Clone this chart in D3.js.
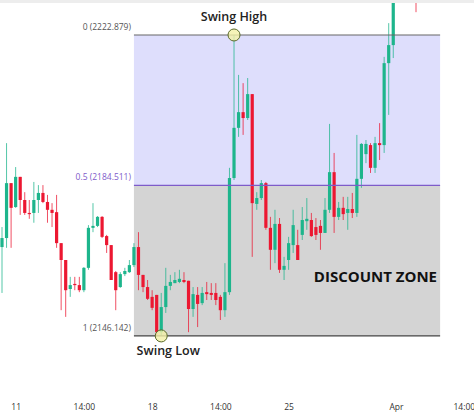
<!DOCTYPE html>
<html><head><meta charset="utf-8">
<script src="https://cdn.jsdelivr.net/npm/d3@7"></script>
<style>body{margin:0;background:#fff}svg{display:block;font-family:"Open Sans",sans-serif}</style>
</head><body>
<svg id="c" width="474" height="413"></svg>
<script>
// [open, high, low, close]
const candles = [
[2168.8,2173.9,2157.1,2171.1],[2171.1,2195.3,2168.6,2185.1],[2185.1,2185.1,2168.6,2178.8],[2179.0,2189.2,2178.8,2186.7],
[2186.7,2186.7,2177.0,2180.8],[2180.8,2182.8,2177.0,2177.5],[2177.5,2180.8,2176.0,2177.2],[2177.5,2185.4,2175.0,2180.8],
[2180.8,2184.6,2177.5,2182.6],[2182.6,2184.6,2180.0,2180.3],[2180.3,2182.1,2175.0,2178.3],[2178.3,2180.0,2173.9,2177.5],
[2177.7,2182.1,2168.6,2169.8],[2169.8,2169.8,2152.7,2165.5],[2165.5,2165.5,2151.0,2157.8],[2158.1,2161.2,2156.1,2159.1],
[2159.4,2161.2,2157.8,2159.1],[2159.1,2161.2,2157.3,2157.8],[2157.8,2163.7,2157.3,2163.5],[2163.5,2174.4,2163.0,2173.7],
[2173.7,2180.0,2172.6,2174.2],[2174.2,2176.7,2173.9,2176.5],[2176.5,2176.7,2171.1,2171.4],[2171.6,2171.9,2167.3,2169.3],
[2169.3,2169.3,2160.4,2160.4],[2162.4,2162.7,2152.7,2157.8],[2158.6,2162.4,2158.4,2161.9],[2161.9,2163.5,2161.4,2162.7],
[2162.4,2165.5,2162.2,2164.2],[2164.2,2169.8,2163.7,2168.8],[2168.8,2172.6,2157.8,2161.7],[2161.7,2161.7,2157.3,2158.6],
[2158.6,2160.4,2155.3,2155.6],[2156.1,2157.8,2152.7,2153.3],[2156.6,2156.6,2146.4,2147.1],[2147.1,2157.1,2146.142,2153.5],
[2153.5,2163.5,2152.0,2158.9],[2158.9,2161.7,2157.8,2159.9],[2159.6,2162.4,2159.6,2160.4],[2159.9,2163.0,2159.6,2160.7],
[2160.4,2162.4,2159.6,2159.9],[2160.2,2160.2,2147.1,2153.0],[2153.0,2158.6,2151.0,2156.8],[2156.6,2158.6,2148.4,2154.3],
[2154.5,2158.6,2154.0,2157.1],[2157.3,2159.9,2155.3,2156.8],[2157.1,2159.6,2155.3,2156.6],[2157.1,2159.6,2154.0,2155.3],
[2156.1,2156.6,2150.2,2152.7],[2152.7,2164.7,2151.0,2157.3],[2157.3,2189.0,2156.6,2186.4],[2186.4,2222.879,2185.9,2199.2],
[2199.2,2212.7,2196.9,2203.2],[2203.2,2210.6,2197.4,2201.7],[2201.7,2211.9,2201.2,2207.8],[2207.8,2207.8,2166.3,2180.0],
[2179.8,2182.8,2178.3,2181.3],[2181.3,2185.9,2180.8,2185.1],[2185.1,2185.4,2173.2,2173.7],[2173.7,2176.5,2163.0,2168.1],
[2168.1,2178.3,2164.7,2174.7],[2174.7,2176.2,2162.2,2163.0],[2163.0,2166.3,2160.4,2164.0],[2165.5,2171.4,2163.0,2169.8],
[2169.3,2178.3,2167.3,2174.4],[2169.3,2173.2,2165.5,2165.5],[2171.9,2179.0,2170.6,2175.7],[2175.4,2181.3,2173.2,2176.0],
[2175.7,2177.5,2171.4,2171.6],[2173.9,2176.2,2170.6,2171.9],[2174.2,2175.7,2168.1,2172.4],[2172.4,2181.3,2172.4,2178.3],
[2178.3,2200.2,2177.5,2187.9],[2187.9,2192.8,2172.4,2176.5],[2176.5,2180.3,2175.7,2178.8],[2178.8,2181.6,2175.7,2177.2],
[2177.5,2181.6,2173.2,2178.5],[2178.5,2182.6,2176.2,2177.5],[2177.5,2197.4,2176.5,2186.2],[2186.2,2195.3,2183.9,2195.1],
[2192.5,2196.1,2190.2,2195.1],[2194.8,2195.3,2187.7,2189.0],[2189.0,2196.9,2187.7,2195.3],[2195.3,2200.4,2191.0,2194.8],
[2194.8,2217.3,2192.8,2215.7],[2215.7,2225.9,2202.5,2220.3],[2220.3,2234.4,2217.0,2233.1],[2233.0,2238.0,2232.5,2236.0],
[2236.0,2240.0,2234.0,2239.0],[2239.0,2242.0,2235.0,2237.0],[2237.0,2241.0,2234.5,2240.0],[2240.0,2242.0,2228.7,2232.5]
];
const fibLevels = [{r:"0",p:2222.879},{r:"0.5",p:2184.511},{r:"1",p:2146.142}];
const tickPos = [3,18,33,48,63,86.6,101.5];
const tickLabels = ["11","14:00","18","14:00","25","Apr","14:00"];
const zoneIdx = [29.0, 96.3];
const swingHighIdx = 51, swingLowIdx = 35;

(function(){
const svg = d3.select("#c");
const x = d3.scaleLinear().domain([0,91]).range([2,416]);
const y = d3.scaleLinear().domain([2231.8, 2231.8-0.255*413]).range([0,413]);
const G = "#1db58c", R = "#ec1731";

svg.append("rect").attr("x",0).attr("y",0).attr("width",474).attr("height",3).attr("fill","#ededed");
svg.append("defs").append("clipPath").attr("id","pc").append("rect").attr("x",0).attr("y",3).attr("width",474).attr("height",392);

const pTop = fibLevels[0].p, pMid = fibLevels[1].p, pBot = fibLevels[2].p;
const zx0 = x(zoneIdx[0]), zw = x(zoneIdx[1])-x(zoneIdx[0]);
svg.append("rect").attr("x",zx0).attr("y",y(pTop)).attr("width",zw).attr("height",y(pMid)-y(pTop)).attr("fill","#dedefc");
svg.append("rect").attr("x",zx0).attr("y",y(pMid)).attr("width",zw).attr("height",y(pBot)-y(pMid)).attr("fill","#d4d4d4");

const g = svg.append("g").attr("clip-path","url(#pc)");
candles.forEach((c,i)=>{
  const [o,h,l,cl] = c, col = cl>=o?G:R;
  g.append("line").attr("x1",x(i)).attr("x2",x(i)).attr("y1",y(h)).attr("y2",y(l)).attr("stroke",col).attr("stroke-width",1).attr("opacity",0.75);
  const yt = y(Math.max(o,cl)), yb = y(Math.min(o,cl));
  g.append("rect").attr("x",x(i)-1.6).attr("width",3.2).attr("y",yt).attr("height",Math.max(1.2,yb-yt)).attr("fill",col);
});

const lineCols = ["#666","#7e5bc9","#444"], txtCols = ["#555","#7e5bc9","#555"];
fibLevels.forEach((f,k)=>{
  svg.append("line").attr("x1",zx0).attr("x2",zx0+zw).attr("y1",y(f.p)).attr("y2",y(f.p)).attr("stroke",lineCols[k]).attr("stroke-width",1.2);
  svg.append("text").attr("x",131).attr("y",y(f.p)-5).attr("text-anchor","end").attr("font-size",8.5).attr("fill",txtCols[k]).text(`${f.r} (${f.p.toFixed(3)})`);
});

[[swingHighIdx, pTop],[swingLowIdx, pBot]].forEach(([i,p])=>{
  svg.append("circle").attr("cx",x(i)).attr("cy",y(p)).attr("r",6).attr("fill","#f3f0a6").attr("fill-opacity",0.8).attr("stroke","#5a6b2a").attr("stroke-width",1);
});
svg.append("text").attr("x",x(swingHighIdx)).attr("y",21).attr("text-anchor","middle").attr("font-size",12.5).attr("font-weight",600).attr("fill","#222").text("Swing High");
svg.append("text").attr("x",x(swingLowIdx)+7).attr("y",355).attr("text-anchor","middle").attr("font-size",12.5).attr("font-weight",600).attr("fill","#222").text("Swing Low");
svg.append("text").attr("x",437).attr("y",282).attr("text-anchor","end").attr("font-size",15).attr("font-weight",700).attr("fill","#111").text("DISCOUNT ZONE");

const ax = svg.append("g").attr("transform","translate(0,400)")
  .call(d3.axisBottom(x).tickValues(tickPos).tickFormat((d,i)=>tickLabels[i]).tickSize(0).tickPadding(4));
ax.select(".domain").remove();
ax.selectAll("text").attr("font-size",8.5).attr("fill","#333").attr("font-family","Open Sans, sans-serif");
})();
</script>
</body></html>
